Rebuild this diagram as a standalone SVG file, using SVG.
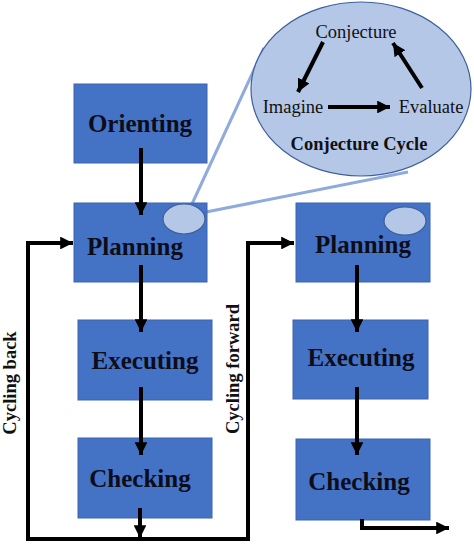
<svg xmlns="http://www.w3.org/2000/svg" width="474" height="544" viewBox="0 0 474 544">
<style>
.box{fill:#4472C4;stroke:#3A64B0;stroke-width:1}
.lbl{font-family:"Liberation Serif","Times New Roman",serif;font-weight:bold;font-size:25px;fill:#0D0D1A;text-anchor:middle}
.sm{font-family:"Liberation Serif","Times New Roman",serif;font-size:18.5px;fill:#111;text-anchor:middle}
.smb{font-family:"Liberation Serif","Times New Roman",serif;font-weight:bold;font-size:18.5px;fill:#111;text-anchor:middle}
.con{fill:none;stroke:#000;stroke-width:4}
.bub{fill:#B4C7E7;stroke:#3F5F9A;stroke-width:1.2}
.zoom{stroke:#8FAADC;stroke-width:3}
</style>
<defs>
<marker id="ah" viewBox="0 0 10 10" refX="10" refY="5" markerWidth="3.2" markerHeight="3.2" markerUnits="strokeWidth" orient="auto">
<path d="M0,0 L10,5 L0,10 z" fill="#000"/>
</marker>
</defs>
<g id="zoom-lines">
<line class="zoom" x1="192" y1="204" x2="264" y2="48"/>
<line class="zoom" x1="206" y1="212" x2="408" y2="172"/>
</g>
<g id="conjecture-cycle">
<ellipse class="bub" cx="361" cy="89" rx="110" ry="87"/>
<text class="sm" x="356" y="38">Conjecture</text>
<text class="sm" x="293" y="113">Imagine</text>
<text class="sm" x="431" y="113">Evaluate</text>
<text class="smb" x="359" y="150">Conjecture Cycle</text>
<g class="con" stroke-width="3.5">
<line x1="323" y1="42" x2="298" y2="92" marker-end="url(#ah)"/>
<line x1="422" y1="88" x2="393" y2="43" marker-end="url(#ah)"/>
<line x1="328" y1="107" x2="390" y2="107" marker-end="url(#ah)"/>
</g>
</g>
<g id="orienting"><rect class="box" x="74" y="84" width="133" height="79"/><text class="lbl" x="140" y="132">Orienting</text></g>
<g id="planning1"><rect class="box" x="74" y="203" width="133" height="79"/><ellipse class="bub" cx="184" cy="219" rx="21" ry="15"/><text class="lbl" x="135" y="255">Planning</text></g>
<g id="executing1"><rect class="box" x="78" y="320" width="134" height="80"/><text class="lbl" x="145" y="369">Executing</text></g>
<g id="checking1"><rect class="box" x="78" y="438" width="134" height="80"/><text class="lbl" x="140" y="487">Checking</text></g>
<g id="planning2"><rect class="box" x="296" y="203" width="134" height="79"/><ellipse class="bub" cx="405" cy="221" rx="21" ry="14"/><text class="lbl" x="363" y="253">Planning</text></g>
<g id="executing2"><rect class="box" x="293" y="320" width="135" height="79"/><text class="lbl" x="361" y="366">Executing</text></g>
<g id="checking2"><rect class="box" x="296" y="439" width="134" height="81"/><text class="lbl" x="359" y="490">Checking</text></g>
<g id="labels">
<text class="smb" transform="translate(16,383) rotate(-90)">Cycling back</text>
<text class="smb" transform="translate(239,369) rotate(-90)">Cycling forward</text>
</g>
<g id="connectors">
<line class="con" x1="141" y1="148" x2="141" y2="215" marker-end="url(#ah)"/>
<line class="con" x1="141" y1="265" x2="141" y2="332" marker-end="url(#ah)"/>
<line class="con" x1="141" y1="387" x2="141" y2="455" marker-end="url(#ah)"/>
<line class="con" x1="140" y1="508" x2="140" y2="538" marker-end="url(#ah)"/>
<polyline class="con" points="248,243 248,539 28,539 28,243 73,243" marker-end="url(#ah)"/>
<line class="con" x1="246" y1="243" x2="294" y2="243" marker-end="url(#ah)"/>
<line class="con" x1="357" y1="265" x2="357" y2="332" marker-end="url(#ah)"/>
<line class="con" x1="357" y1="387" x2="357" y2="455" marker-end="url(#ah)"/>
<polyline class="con" points="362,519 362,528 449,528" marker-end="url(#ah)"/>
</g>
</svg>
